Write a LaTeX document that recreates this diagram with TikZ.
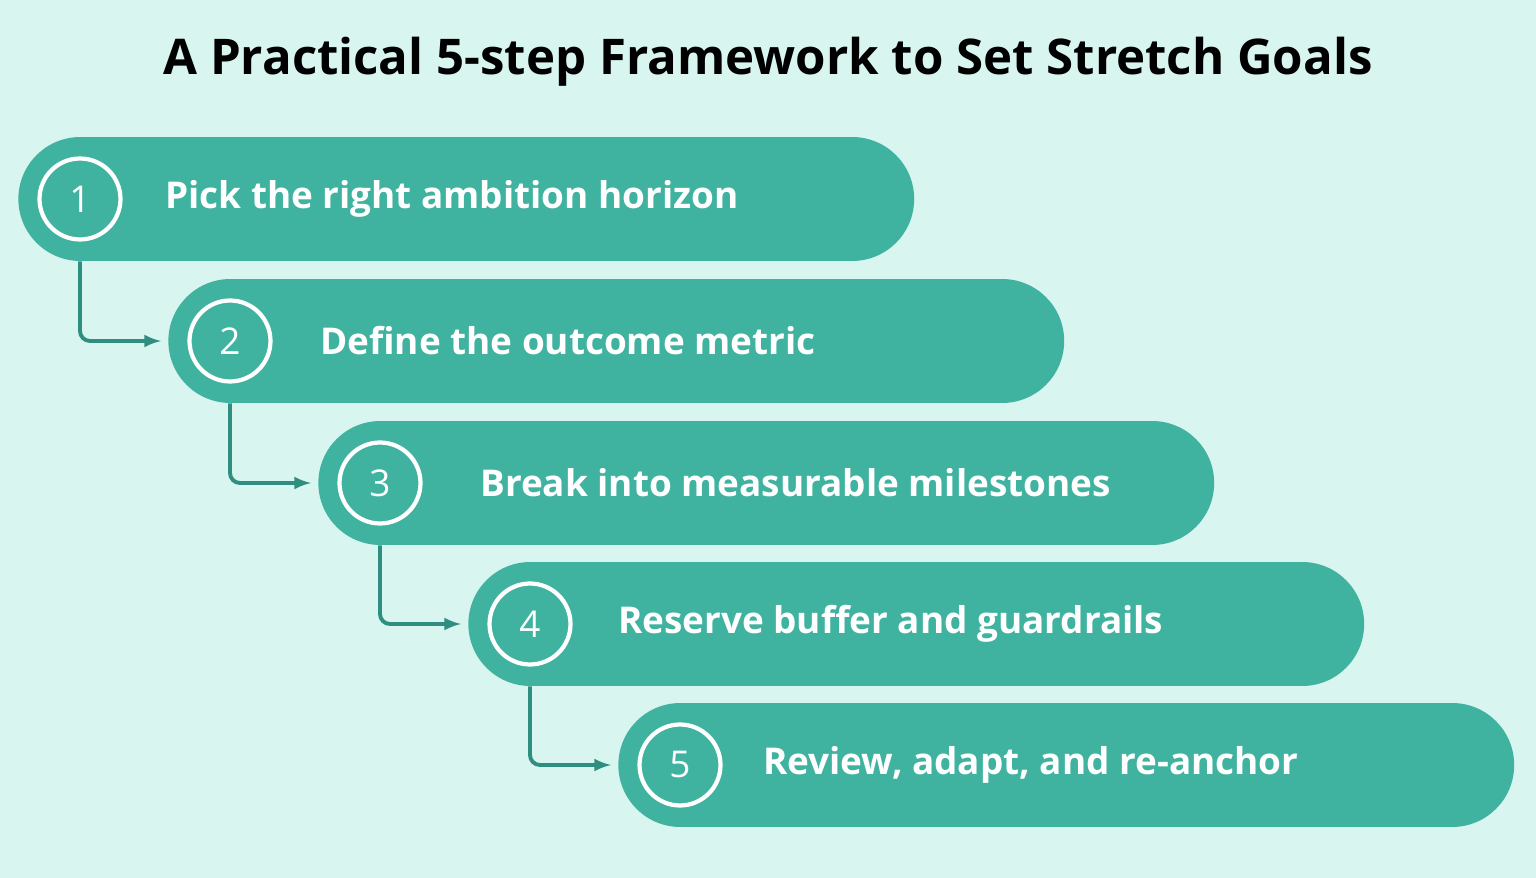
\documentclass[tikz,border=0pt]{standalone}
\usepackage{fontspec}
\setmainfont{Open Sans}
\usetikzlibrary{positioning}
\definecolor{bgmint}{HTML}{D8F5F0}
\definecolor{pillteal}{HTML}{3FB3A0}
\definecolor{arrowteal}{HTML}{2E8F80}
\tikzset{>=latex}
\begin{document}
\begin{tikzpicture}[x=0.02cm, y=-0.02cm,
    pill/.style={fill=pillteal, rectangle, rounded corners=1.24cm, minimum width=17.92cm, minimum height=2.48cm},
    stepnum/.style={circle, draw=white, line width=2.4pt, minimum size=1.62cm, text=white, font=\fontsize{21}{24}\selectfont},
    steptext/.style={anchor=west, text=white, font=\fontsize{21}{24}\selectfont\bfseries},
    link/.style={->, draw=arrowteal, line width=2.2pt, rounded corners=0.2cm}]
    % Background
    \fill[bgmint] (0,0) rectangle (1536,878);
    % Title
    \node (title) at (768,62) {\fontsize{28}{32}\selectfont\bfseries A Practical 5-step Framework to Set Stretch Goals};
    % Steps
    \foreach \i/\x/\y/\tx/\txt in {1/18/199/165/Pick the right ambition horizon,
        2/168/341/320/Define the outcome metric,
        3/318/483/480/Break into measurable milestones,
        4/468/624/618/Reserve buffer and guardrails,
        5/618/765/763/Review{,} adapt{,} and re-anchor} {
        \node[pill, anchor=west] (p\i) at (\x,\y) {};
        \node[stepnum] (c\i) at (\x+62,\y) {\i};
        \node[steptext] (t\i) at (\tx-6,\y) {\txt};
    }
    % Arrows
    \foreach \i [evaluate=\i as \j using int(\i+1)] in {1,...,4}
        \draw[link] (c\i |- p\i.south) |- ([xshift=-0.14cm]p\j.west);
\end{tikzpicture}
\end{document}
